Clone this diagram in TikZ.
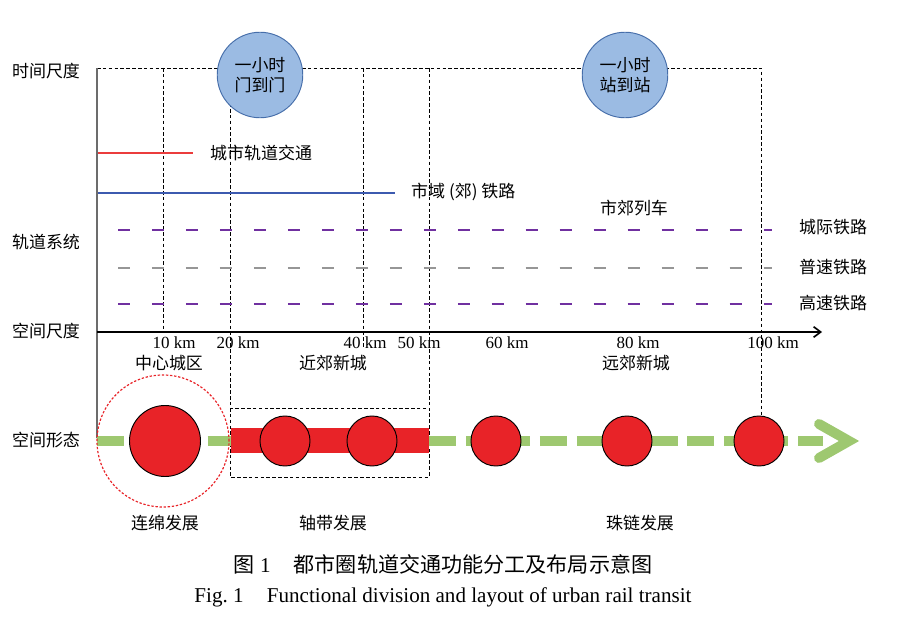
\documentclass[tikz,border=0pt]{standalone}
\usepackage{fontspec}
\setmainfont{Liberation Serif}
\newfontfamily\cjk{Noto Sans CJK SC}
\usetikzlibrary{arrows.meta}

\definecolor{townred}{RGB}{232,35,40}
\definecolor{railgreen}{RGB}{158,200,112}
\definecolor{hourfill}{RGB}{155,187,227}
\definecolor{hourline}{RGB}{70,110,170}
\definecolor{railpurple}{RGB}{112,48,160}
\definecolor{railgray}{RGB}{150,150,150}
\definecolor{metrored}{RGB}{235,60,60}
\definecolor{suburbblue}{RGB}{60,90,175}

\begin{document}
\begin{tikzpicture}[x=0.03cm,y=0.03cm]
\tikzset{lbl/.style={font=\cjk\fontsize{14.5}{17}\selectfont, inner sep=0pt},
  kmlbl/.style={font=\fontsize{14.5}{17}\selectfont, inner sep=0pt},
  guide/.style={black, line width=0.7pt, dash pattern=on 3pt off 2pt},
  railline/.style={line width=1pt, dash pattern=on 10.2pt off 18.8pt},
  town/.style={circle, draw=black, line width=0.8pt, fill=townred, minimum size=42.7pt, inner sep=0pt},
  hour/.style={circle, draw=hourline, line width=0.8pt, fill=hourfill, minimum size=73pt,
    inner sep=0pt, align=center, font=\cjk\fontsize{14.5}{17}\selectfont}}
\useasboundingbox (0,0) rectangle (899,-627);
% row labels
\node [lbl] (time) at (46,-71) {时间尺度};
\node [lbl] (sys) at (46,-242) {轨道系统};
\node [lbl] (space) at (46,-331) {空间尺度};
\node [lbl] (form) at (46,-440) {空间形态};
% time scale frame
\draw [guide] (97,-68) -- (761,-68) -- (761,-416);
\draw [guide] (163,-68) -- (163,-332);
\draw [guide] (230,-68) -- (230,-408);
\draw [guide] (363,-68) -- (363,-347);
\draw [guide] (429,-68) -- (429,-408);
\draw [guide] (230,-408) rectangle (429,-477);
\node [hour] (door) at (260,-75) {一小时\\门到门};
\node [hour] (station) at (625,-75) {一小时\\站到站};
% rail systems
\coordinate (o) at (97,-332);
\draw [gray!85!black, line width=1.8pt] (97,-68) -- (97,-438);
\draw [metrored, line width=1.1pt] (98,-153) -- (193,-153);
\node [lbl, anchor=west] (metro) at (210,-153) {城市轨道交通};
\draw [suburbblue, line width=1.1pt] (98,-193) -- (395,-193);
\node [lbl, anchor=west] (suburb) at (411,-192) {市域 (郊) 铁路};
\node [lbl] (train) at (634,-208) {市郊列车};
\draw [railline, railpurple] (118,-230) -- (772,-230);
\draw [railline, railgray] (118,-268) -- (772,-268);
\draw [railline, railpurple] (118,-304) -- (772,-304);
\node [lbl, anchor=west] (intercity) at (799,-227) {城际铁路};
\node [lbl, anchor=west] (normal) at (799,-267) {普速铁路};
\node [lbl, anchor=west] (highspeed) at (799,-303) {高速铁路};
% space scale axis
\coordinate (axisend) at (822,-332);
\draw [black, line width=1.4pt, -{Straight Barb[length=6pt,width=9pt]}] (o) -- (axisend);
\node [kmlbl] (k10) at (174,-343) {10 km};
\node [kmlbl] (k20) at (238,-343) {20 km};
\node [kmlbl] (k40) at (365,-343) {40 km};
\node [kmlbl] (k50) at (419,-343) {50 km};
\node [kmlbl] (k60) at (507,-343) {60 km};
\node [kmlbl] (k80) at (638,-343) {80 km};
\node [kmlbl] (k100) at (773,-343) {100 km};
\node [lbl] (core) at (169,-363) {中心城区};
\node [lbl] (near) at (333,-363) {近郊新城};
\node [lbl] (far) at (636,-363) {远郊新城};
% spatial form
\draw [railgreen, line width=8.5pt, dash pattern=on 23pt off 8.5pt] (97,-441) -- (823,-441);
\draw [railgreen, line width=8.5pt, line cap=round, line join=miter] (819,-424) -- (849,-441) -- (819,-458);
\fill [townred] (231,-428) rectangle (429,-453);
\draw [townred, line width=1pt, dash pattern=on 2pt off 1.5pt] (163,-441) circle (66);
\node [town, minimum size=60.6pt] (c0) at (165,-441) {};
\node [town] (c1) at (285,-441) {};
\node [town] (c2) at (372,-441) {};
\node [town] (c3) at (496,-441) {};
\node [town] (c4) at (627,-441) {};
\node [town] (c5) at (759,-441) {};
\node [lbl] (contig) at (165,-523) {连绵发展};
\node [lbl] (axial) at (333,-523) {轴带发展};
\node [lbl] (bead) at (640,-523) {珠链发展};
% caption
\node [inner sep=0pt, font=\fontsize{18}{20}\selectfont] (cap1) at (443,-564)
  {{\cjk 图}~1\hspace{1.1em}{\cjk 都市圈轨道交通功能分工及布局示意图}};
\node [inner sep=0pt, font=\fontsize{18}{20}\selectfont] (cap2) at (443,-597)
  {Fig.~1\hspace{1.1em}Functional division and layout of urban rail transit};
\end{tikzpicture}
\end{document}
